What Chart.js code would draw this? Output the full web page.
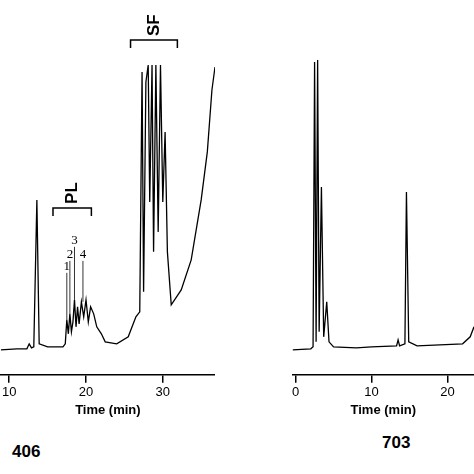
<!DOCTYPE html><html><head><script src="https://cdn.jsdelivr.net/npm/chart.js@4/dist/chart.umd.min.js"></script>
<style>body{margin:0;background:#fff;width:474px;height:474px;position:relative;overflow:hidden;font-family:"Liberation Sans",Arial,sans-serif}
.lab{position:absolute;font-weight:bold;font-size:17px}</style></head><body>
<div id="w1" style="position:absolute;left:0;top:0;width:215px;height:418px"><canvas id="c1"></canvas></div>
<div id="w2" style="position:absolute;left:290px;top:0;width:184px;height:418px"><canvas id="c2"></canvas></div>
<div class="lab" style="left:12px;top:442px">406</div>
<div class="lab" style="left:382px;top:433px">703</div>
<script>
const leftTime=[8.9,11,12.3,12.6,12.9,13.2,13.6,13.9,15,17,17.3,17.5,17.7,17.9,18.1,18.3,18.5,18.7,18.9,19.1,19.4,19.7,20,20.3,20.6,21,21.4,22,22.5,24,25.5,26,26.5,27,27.3,27.5,27.8,28.1,28.3,28.6,28.8,29.1,29.4,29.7,30,30.3,30.6,31.1,32.4,33.7,35,35.8,36.4,36.8];
const leftSignal=[2,3,3,8,4,5,152,8,5,5,8,32,18,38,20,30,52,25,45,28,50,35,52,30,45,38,25,18,10,8,15,25,35,40,280,60,270,287,150,287,100,287,120,287,150,220,100,47,62,92,152,200,262,285];
const rightTime=[-0.4,2,2.3,2.5,2.7,2.9,3.1,3.4,3.7,4.1,4.4,5,8,10,13.3,13.5,13.7,14.4,14.6,14.9,16,22,23,23.5];
const rightSignal=[2,3,5,290,10,292,20,165,15,50,10,5,4,5,6,12,6,8,160,10,6,8,15,25];
const leftTicks=[10,20,30], rightTicks=[0,10,20];
const ann={id:'ann',afterDraw(c){const o=c.options.plugins.ann;if(!o||!o.brackets)return;const x=c.scales.x,y=c.scales.y,g=c.ctx;g.save();g.strokeStyle='#000';g.fillStyle='#000';g.lineWidth=1.5;
for(const b of o.brackets){const x1=x.getPixelForValue(b.t1),x2=x.getPixelForValue(b.t2),yy=y.getPixelForValue(b.s);g.beginPath();g.moveTo(x1,yy+8);g.lineTo(x1,yy);g.lineTo(x2,yy);g.lineTo(x2,yy+8);g.stroke();
g.save();g.translate((x1+x2)/2,yy-4);g.rotate(-Math.PI/2);g.font='bold 17px "Liberation Sans",Arial';g.textBaseline='middle';g.textAlign='left';g.fillText(b.text,0,0);g.restore();}
g.lineWidth=0.8;g.font='13px "Liberation Serif",serif';g.textAlign='center';
for(const a of o.arrows){const px=x.getPixelForValue(a.t),py=y.getPixelForValue(a.s),ty=y.getPixelForValue(a.ls);g.fillText(a.text,px,ty);g.beginPath();g.moveTo(px,ty+3);g.lineTo(px,py);g.stroke();}
g.restore();}};
function mk(id,t,s,min,max,ticks,extra){return new Chart(document.getElementById(id),{type:'line',
data:{datasets:[{data:t.map((v,i)=>({x:v,y:s[i]})),borderColor:'#000',borderWidth:1.3,pointRadius:0,tension:0}]},
options:{animation:false,responsive:true,maintainAspectRatio:false,layout:{padding:0},
plugins:{legend:{display:false},tooltip:{enabled:false},ann:extra},
scales:{x:{type:'linear',min:min,max:max,afterBuildTicks:a=>{a.ticks=ticks.map(v=>({value:v}))},
border:{display:true,color:'#000',width:1.5},grid:{drawOnChartArea:false,color:'#000',tickLength:8,lineWidth:1.5},
ticks:{color:'#000',font:{size:13,family:'Liberation Sans'},padding:2},
title:{display:true,text:'Time (min)',color:'#000',font:{size:13,weight:'bold',family:'Liberation Sans'},padding:0}},
y:{display:false,min:-23,max:352}}},plugins:[ann]});}
mk('c1',leftTime,leftSignal,8.9,36.8,leftTicks,{brackets:[{t1:15.7,t2:20.7,s:144,text:'PL'},{t1:25.8,t2:31.9,s:312,text:'SF'}],
arrows:[{t:17.5,s:32,ls:82,text:'1'},{t:17.9,s:38,ls:94,text:'2'},{t:18.5,s:52,ls:108,text:'3'},{t:19.6,s:50,ls:94,text:'4'}]});
mk('c2',rightTime,rightSignal,-0.4,23.5,rightTicks,{});
</script></body></html>
